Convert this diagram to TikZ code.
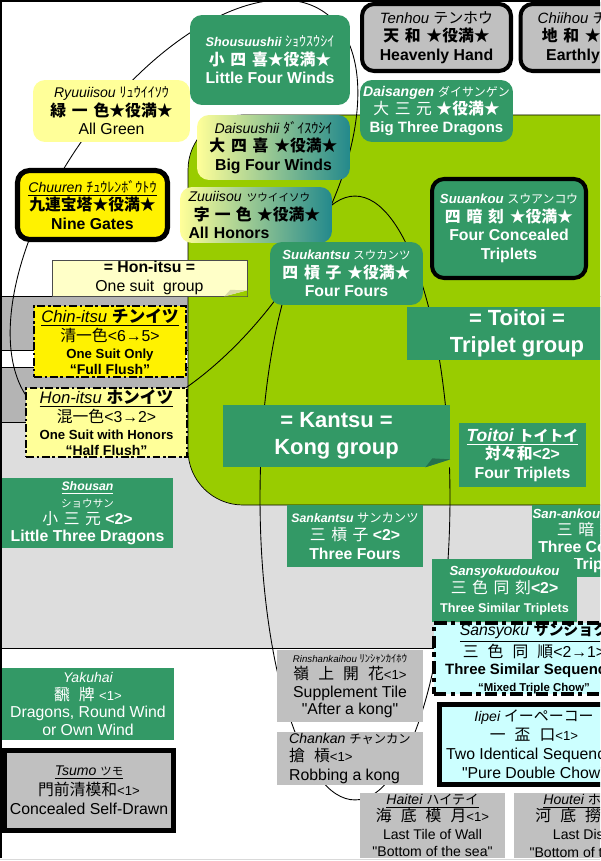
\documentclass[tikz,border=0pt]{standalone}
\usepackage{fontspec}
\setmainfont{Liberation Sans}
\newfontfamily\jpfont[WordSpace=1.6]{Noto Sans CJK JP}
\usetikzlibrary{positioning}
\definecolor{tilegreen}{HTML}{339966}
\definecolor{groupgreen}{HTML}{99CC00}
\definecolor{bandgrey}{HTML}{DDDDDD}
\definecolor{darkband}{HTML}{B4B4B4}
\definecolor{tilegrey}{HTML}{C0C0C0}
\definecolor{paleyellow}{HTML}{FFFF99}
\definecolor{cream}{HTML}{FFFFC8}
\definecolor{palecyan}{HTML}{CCFFFF}
\definecolor{gradteal}{HTML}{23898C}
\definecolor{foldgreen}{HTML}{25704C}
\definecolor{foldcream}{HTML}{D8D8A8}
\newcommand{\jp}[1]{{\jpfont #1}}
\newcommand{\fsz}[2]{\fontsize{#1}{#2}\selectfont}
\newcommand{\qt}{\textquotedbl}

\begin{document}
\begin{tikzpicture}[
    x=0.02cm, y=-0.02cm,
    every node/.style={inner sep=0pt, align=center, font=\fsz{9}{10.5}},
    greentile/.style={fill=tilegreen, text=white, font=\bfseries\fsz{9}{10.5}},
    greenround/.style={greentile, rounded corners=0.24cm},
    greytile/.style={fill=tilegrey, font=\fsz{9}{10.5}},
    gradtile/.style={left color=paleyellow, right color=gradteal, rounded corners=0.24cm, font=\bfseries\fsz{9}{10.5}},
    grouplabel/.style={fill=tilegreen, text=white, font=\bfseries\fsz{12.5}{15.4}},
    boldframe/.style={draw=black, line width=2.3pt},
    heavyframe/.style={draw=black, line width=2.9pt},
    dashdot/.style={draw=black, line width=1.1pt, dash pattern=on 4.5pt off 1.5pt on 1.5pt off 1.5pt},
    ring/.style={draw=black, line width=0.5pt}
  ]
    \path[use as bounding box] (0,0) rectangle (600,861);
    \clip (0,0) rectangle (600,861);
    \fill[white] (0,0) rectangle (600,861);

    \draw[fill=bandgrey] (-5,296) rectangle (700,648);
    \draw[fill=darkband] (-5,296) rectangle (190,350);
    \draw[fill=white] (-5,350) rectangle (190,367);
    \draw[fill=darkband] (-5,367) rectangle (190,422);
    \draw[fill=groupgreen, rounded corners=1.1cm] (188,115) rectangle (760,505);

    \draw[ring, rotate around={55:(184,213)}] (184,213) ellipse [x radius=4.9cm, y radius=2.5cm];
    \draw[ring] (355,498) ellipse [x radius=1.9cm, y radius=6.04cm];

    \draw[line width=1pt] (1,858) -- (1,0.8) -- (600,0.8);
    \draw[black!15] (0,859) -- (600,859);

    \node[greenround, minimum width=3.2cm, minimum height=1.8cm] (shousuushii) at (270,60)
      {{\fsz{7.2}{9}\itshape Shousuushii \jp{\mdseries\fsz{8}{9}ｼｮｳｽｳｼｲ}}\\
       \jp{小 四 喜★役満★}\\ Little Four Winds};
    \node[greytile, boldframe, rounded corners=0.24cm, minimum width=2.98cm, minimum height=1.34cm] (tenhou) at (436.5,37.5)
      {{\fsz{8.5}{9}\itshape Tenhou \jp{テンホウ}}\\ \jp{\bfseries 天 和 ★役満★}\\ \textbf{Heavenly Hand}};
    \node[greytile, boldframe, rounded corners=0.24cm, minimum width=2.98cm, minimum height=1.34cm] (chiihou) at (595,37.5)
      {{\fsz{8.5}{9}\itshape Chiihou \jp{チーホウ}}\\ \jp{\bfseries 地 和 ★役満★}\\ \textbf{Earthly Hand}};
    \node[greenround, minimum width=3.06cm, minimum height=1.24cm] (daisangen) at (436.5,111)
      {{\fsz{8}{9}\itshape Daisangen \jp{\mdseries\fsz{6.8}{9}ダイサンゲン}}\\
       \jp{\mdseries 大 三 元} \jp{★役満★}\\ {\fsz{8.5}{10}Big Three Dragons}};
    \node[fill=paleyellow, rounded corners=0.24cm, minimum width=3.14cm, minimum height=1.24cm] (ryuuiisou) at (111.5,111)
      {{\fsz{8}{9}\itshape Ryuuiisou \jp{ﾘｭｳｲｲｿｳ}}\\ \jp{\bfseries 緑 一 色★役満★}\\ All Green};
    \node[gradtile, minimum width=3.06cm, minimum height=1.3cm] (daisuushii) at (273.5,147.5)
      {{\mdseries\fsz{8}{9}\itshape Daisuushii \jp{ﾀﾞｲｽｳｼｲ}}\\ \jp{大 四 喜 ★役満★}\\ Big Four Winds};
    \node[gradtile, minimum width=3.04cm, minimum height=1.12cm, text width=2.7cm, align=left] (zuuiisou) at (256,215)
      {{\mdseries\fsz{8}{9}\itshape Zuuiisou \jp{\fsz{6}{9}ツウイイソウ}}\\ \ \jp{字 一 色 ★役満★}\\ All Honors};
    \node[fill=yellow, heavyframe, rounded corners=0.24cm, minimum width=3cm, minimum height=1.38cm, font=\bfseries\fsz{9}{10.5}] (chuuren) at (92.5,205)
      {{\mdseries\fsz{8}{9}\itshape\underline{Chuuren \jp{ﾁｭｳﾚﾝﾎﾞｳﾄｳ}}}\\ \jp{九連宝塔★役満★}\\ Nine Gates};
    \node[fill=cream, draw=black!70, line width=0.4pt, minimum width=3.9cm, minimum height=0.72cm] (honlabel) at (149.5,278)
      {\textbf{= Hon-itsu =}\\ One suit\ \ group};
    \fill[groupgreen] ([xshift=-0.46cm]honlabel.south east) -- (honlabel.south east) -- ([yshift=0.12cm]honlabel.south east) -- cycle;
    \fill[foldcream] ([xshift=-0.46cm]honlabel.south east) -- ([yshift=0.12cm]honlabel.south east) -- ([xshift=-0.34cm, yshift=0.13cm]honlabel.south east) -- cycle;

    \node[greenround, boldframe, minimum width=3.08cm, minimum height=1.98cm] (suuankou) at (509,228.5)
      {{\fsz{7.5}{9}\itshape Suuankou \jp{\mdseries\fsz{6.8}{9}スウアンコウ}}\\ \jp{四 暗 刻 ★役満★}\\ Four Concealed\\ Triplets};
    \node[greenround, minimum width=3.06cm, minimum height=1.26cm] (suukantsu) at (346.5,273.5)
      {{\fsz{7.5}{9}\itshape Suukantsu \jp{\mdseries\fsz{6.5}{9}スウカンツ}}\\ \jp{四 槓 子 ★役満★}\\ Four Fours};
    \node[grouplabel, minimum width=4.4cm, minimum height=1.06cm] (tripletgroup) at (517,333.5)
      {= Toitoi =\\ Triplet group};

    \node[fill=yellow, dashdot, minimum width=3.04cm, minimum height=1.42cm, font=\fsz{9}{9.3}] (chinitsu) at (110,341.5)
      {{\fsz{9.5}{10}\itshape\underline{Chin-itsu \jp{\bfseries チンイツ}}}\\ \jp{清一色}<6→5>\\
       {\bfseries\fsz{7.5}{9}One Suit Only}\\ {\bfseries\fsz{8}{9}“Full Flush”}};
    \node[fill=paleyellow, dashdot, minimum width=3.22cm, minimum height=1.38cm, font=\fsz{9}{9.3}] (honitsu) at (106.5,422.5)
      {{\fsz{9.5}{10}\itshape\underline{Hon-itsu \jp{\bfseries ホンイツ}}}\\ \jp{混一色}<3→2>\\
       {\bfseries\fsz{7.5}{9}One Suit with Honors}\\ {\bfseries\fsz{8}{9}“Half Flush”}};

    \node[grouplabel, minimum width=4.54cm, minimum height=1.24cm] (konggroup) at (336.5,436)
      {= Kantsu =\\ Kong group};
    \fill[groupgreen] ([xshift=-0.5cm]konggroup.south east) -- (konggroup.south east) -- ([yshift=0.16cm]konggroup.south east) -- cycle;
    \fill[foldgreen] ([xshift=-0.5cm]konggroup.south east) -- ([yshift=0.16cm]konggroup.south east) -- ([xshift=-0.36cm, yshift=0.18cm]konggroup.south east) -- cycle;

    \node[greentile, minimum width=2.54cm, minimum height=1.28cm] (toitoi) at (522.5,455)
      {{\fsz{10}{11}\itshape\underline{Toitoi \jp{\fsz{8.5}{11}トイトイ}}}\\ \jp{対々和}<2>\\ Four Triplets};
    \node[greentile, minimum width=3.42cm, minimum height=1.4cm, font=\bfseries\fsz{9}{9.6}] (shousan) at (87.5,513)
      {{\fsz{7}{8}\itshape\underline{Shousan}}\\ \jp{\mdseries\fsz{6}{8}ショウサン}\\ \jp{\mdseries 小 三 元} <2>\\ Little Three Dragons};
    \node[greentile, minimum width=2.72cm, minimum height=1.24cm] (sankantsu) at (355,536)
      {{\fsz{7}{8}\itshape Sankantsu \jp{\mdseries サンカンツ}}\\ \jp{\mdseries 三 槓 子} <2>\\ Three Fours};
    \node[greentile, minimum width=2.8cm, minimum height=1.44cm, font=\bfseries\fsz{9}{9.8}] (sanankou) at (602,541)
      {{\fsz{7.5}{8}\itshape San-ankou \jp{\mdseries\fsz{6.5}{8}サンアンコウ}}\\ \jp{\mdseries 三 暗 刻} <2>\\ Three Concealed\\ Triplets};
    \node[greentile, minimum width=2.9cm, minimum height=1.26cm] (sansyokudoukou) at (504.5,590.5)
      {{\fsz{7.5}{9}\itshape Sansyokudoukou}\\ \jp{\mdseries 三 色 同 刻}<2>\\ {\fsz{7.2}{9}Three Similar Triplets}};
    \node[fill=palecyan, dashdot, line width=2.3pt, dash pattern=on 7pt off 2.5pt on 2.5pt off 2.5pt, minimum width=4cm, minimum height=1.38cm, font=\fsz{9}{9.8}] (sansyoku) at (534,658.5)
      {{\fsz{9}{10}\itshape\underline{Sansyoku \jp{\bfseries\fsz{8.5}{10}サンショク}}}\\ \jp{三 色 同 順}<2→1>\\
       {\bfseries\fsz{8.5}{9}Three Similar Sequences}\\ {\bfseries\fsz{6.5}{8}“Mixed Triple Chow”}};
    \node[fill=palecyan, heavyframe, minimum width=3.79cm, minimum height=1.6cm, font=\fsz{9}{10.8}] (iipei) at (534,744.5)
      {{\fsz{8}{9}\itshape Iipei \jp{\fsz{8.5}{9}イーペーコー}}\\ \jp{一 盃 口}{\fsz{7.5}{9}<1>}\\ Two Identical Sequences\\ \qt Pure Double Chow\qt};

    \node[greytile, minimum width=2.92cm, minimum height=1.44cm, font=\fsz{9}{10}] (rinshan) at (350,686)
      {{\fsz{5.5}{7}\itshape Rinshankaihou \jp{\fsz{6}{7}ﾘﾝｼｬﾝｶｲﾎｳ}}\\ \jp{嶺 上 開 花}{\fsz{7.5}{9}<1>}\\ Supplement Tile\\ \qt After a kong\qt};
    \node[greytile, minimum width=2.92cm, minimum height=1.06cm, align=left] (chankan) at (350,758.5)
      {{\fsz{8}{9}\itshape Chankan \jp{\fsz{7}{9}チャンカン}}\\ \jp{搶 槓}{\fsz{7.5}{9}<1>}\\ Robbing a kong};
    \node[greytile, minimum width=2.9cm, minimum height=1.3cm, font=\fsz{8}{10}] (haitei) at (432.5,825.5)
      {{\itshape\underline{Haitei \jp{\fsz{7.5}{10}ハイテイ}}}\\ \jp{\fsz{9}{10}海 底 模 月}{\fsz{7.5}{9}<1>}\\ Last Tile of Wall\\ \qt Bottom of the sea\qt};
    \node[greytile, minimum width=3.12cm, minimum height=1.3cm, font=\fsz{8}{10}] (houtei) at (592,825.5)
      {{\itshape\underline{Houtei \jp{\fsz{7.5}{10}ホウテイ}}}\\ \jp{\fsz{9}{10}河 底 撈 魚}{\fsz{7.5}{9}<1>}\\ Last Discard\\ \qt Bottom of the river\qt};

    \node[greentile, font=\fsz{9}{10.2}, minimum width=3.44cm, minimum height=1.44cm] (yakuhai) at (88,704)
      {{\fsz{8}{9}\itshape Yakuhai}\\ \jp{飜 牌} {\fsz{7.5}{9}<1>}\\ Dragons, Round Wind\\ or Own Wind};
    \node[greytile, heavyframe, minimum width=3.38cm, minimum height=1.6cm, font=\fsz{9}{11}] (tsumo) at (89,790.5)
      {{\fsz{8}{9}\itshape\underline{Tsumo \jp{\fsz{6.5}{9}ツモ}}}\\ \jp{門前清模和}{\fsz{7.5}{9}<1>}\\ Concealed Self-Drawn};
  \end{tikzpicture}
\end{document}
